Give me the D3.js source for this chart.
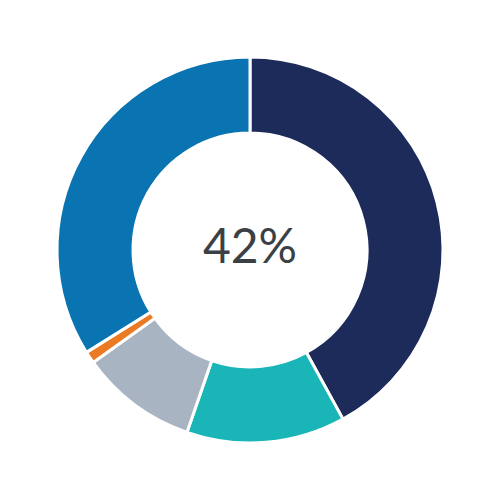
<!DOCTYPE html>
<html>
<head>
<meta charset="utf-8">
<script src="https://cdn.jsdelivr.net/npm/d3@7"></script>
<style>
  body { margin: 0; background: #fff; }
</style>
</head>
<body>
<div class="donut"></div>
<script>
var categories = ["A", "B", "C", "D", "E"];
var values = [42, 13.3, 9.8, 1, 33.9];
var colors = ["#1c2b5a", "#1ab5b6", "#a9b4c3", "#ea7b24", "#0a73b1"];
var centerLabel = "42%";

var width = 500, height = 500,
  outer = 193, inner = 117;

var svg = d3.select(".donut").append("svg")
  .attr("width", width)
  .attr("height", height)

var g = svg.append("g")
  .attr("transform", "translate(" + width / 2 + "," + height / 2 + ")")

var pie = d3.pie().sort(null).value(function(d) { return d; });
var arc = d3.arc().innerRadius(inner).outerRadius(outer);

g.selectAll("path")
  .data(pie(values))
  .enter()
  .append("path")
  .attr("d", arc)
  .attr("fill", function(d, i) { return colors[i]; })
  .attr("stroke", "#fff")
  .attr("stroke-width", 3)

g.append("text")
  .attr("text-anchor", "middle")
  .attr("y", 13)
  .style("font-family", "Lato, sans-serif")
  .style("font-size", "48px")
  .style("fill", "#3b4045")
  .text(centerLabel)
</script>
</body>
</html>
